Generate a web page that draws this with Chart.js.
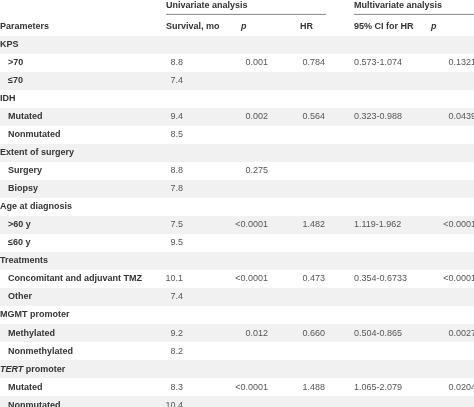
<!DOCTYPE html>
<html>
<head>
<meta charset="utf-8">
<script src="https://cdn.jsdelivr.net/npm/chart.js@4"></script>
<style>
  body { margin: 0; background: #fff; }
  #wrap { width: 474px; height: 407px; }
</style>
</head>
<body>
<div id="wrap"><canvas id="tbl"></canvas></div>
<script>
// Tabellendaten
const parameters = ['KPS', '>70', '≤70', 'IDH', 'Mutated', 'Nonmutated', 'Extent of surgery', 'Surgery', 'Biopsy',
    'Age at diagnosis', '>60 y', '≤60 y', 'Treatments', 'Concomitant and adjuvant TMZ', 'Other',
    'MGMT promoter', 'Methylated', 'Nonmethylated', 'TERT promoter', 'Mutated', 'Nonmutated'];
const isGroup = [1, 0, 0, 1, 0, 0, 1, 0, 0, 1, 0, 0, 1, 0, 0, 1, 0, 0, 1, 0, 0];
const survival = ['', '8.8', '7.4', '', '9.4', '8.5', '', '8.8', '7.8', '', '7.5', '9.5', '', '10.1', '7.4', '', '9.2', '8.2', '', '8.3', '10.4'];
const pUni = ['', '0.001', '', '', '0.002', '', '', '0.275', '', '', '<0.0001', '', '', '<0.0001', '', '', '0.012', '', '', '<0.0001', ''];
const hr = ['', '0.784', '', '', '0.564', '', '', '', '', '', '1.482', '', '', '0.473', '', '', '0.660', '', '', '1.488', ''];
const ci = ['', '0.573-1.074', '', '', '0.323-0.988', '', '', '', '', '', '1.119-1.962', '', '', '0.354-0.6733', '', '', '0.504-0.865', '', '', '1.065-2.079', ''];
const pMulti = ['', '0.1321', '', '', '0.0439', '', '', '', '', '', '<0.0001', '', '', '<0.0001', '', '', '0.0027', '', '', '0.0204', ''];
const headers = ['Parameters', 'Survival, mo', 'p', 'HR', '95% CI for HR', 'p'];

// Spalten: Anker (x-Wert), Ausrichtung
const columns = [
    { x: 0, align: 'left', data: null },
    { x: 183, align: 'right', hx: 166, data: survival },
    { x: 268, align: 'right', hx: 241, data: pUni },
    { x: 325, align: 'right', hx: 300, data: hr },
    { x: 354, align: 'left', hx: 354, data: ci },
    { x: 476, align: 'right', hx: 431, data: pMulti }
];

const FAM = '"Liberation Sans", Arial, sans-serif';

const tablePlugin = {
    id: 'tablePlugin',
    beforeDatasetsDraw(chart) {
        const { ctx, scales: { x, y } } = chart;
        const rowH = Math.abs(y.getPixelForValue(1) - y.getPixelForValue(0));
        ctx.save();
        // Zeilenstreifen
        parameters.forEach((p, i) => {
            if (i % 2 === 0) {
                const yc = y.getPixelForValue(i + 1);
                ctx.fillStyle = '#f1f1f1';
                ctx.fillRect(0, yc - rowH / 2, chart.width, rowH);
            }
        });
        const fontR = '9px ' + FAM;
        const fontB = 'bold 9px ' + FAM;
        const fontBI = 'bold italic 9px ' + FAM;
        ctx.textBaseline = 'middle';
        // Obere Kopfzeile
        const yTop = y.getPixelForValue(-1.2);
        ctx.fillStyle = '#333';
        ctx.font = fontB;
        ctx.textAlign = 'left';
        ctx.fillText('Univariate analysis', x.getPixelForValue(166), yTop);
        ctx.fillText('Multivariate analysis', x.getPixelForValue(354), yTop);
        ctx.strokeStyle = '#666';
        ctx.lineWidth = 0.8;
        const yLine = y.getPixelForValue(-0.7);
        ctx.beginPath();
        ctx.moveTo(x.getPixelForValue(166), yLine);
        ctx.lineTo(x.getPixelForValue(326), yLine);
        ctx.moveTo(x.getPixelForValue(354), yLine);
        ctx.lineTo(x.getPixelForValue(474), yLine);
        ctx.stroke();
        // Spaltenköpfe
        const yH = y.getPixelForValue(0);
        headers.forEach((h, c) => {
            const col = columns[c];
            ctx.font = (h === 'p') ? fontBI : fontB;
            ctx.textAlign = 'left';
            ctx.fillText(h, x.getPixelForValue(c === 0 ? col.x : col.hx), yH);
        });
        // Datenzeilen
        parameters.forEach((p, i) => {
            const yc = y.getPixelForValue(i + 1);
            ctx.fillStyle = '#333';
            ctx.font = fontB;
            ctx.textAlign = 'left';
            if (p.startsWith('TERT')) {
                ctx.font = fontBI;
                ctx.fillText('TERT', x.getPixelForValue(0), yc);
                const w = ctx.measureText('TERT ').width;
                ctx.font = fontB;
                ctx.fillText('promoter', x.getPixelForValue(0) + w, yc);
            } else {
                ctx.fillText(p, x.getPixelForValue(isGroup[i] ? 0 : 8), yc);
            }
            ctx.font = fontR;
            ctx.fillStyle = '#555';
            for (let c = 1; c < columns.length; c++) {
                const col = columns[c];
                ctx.textAlign = col.align;
                ctx.fillText(col.data[i], x.getPixelForValue(col.x), yc);
            }
        });
        ctx.restore();
    }
};

new Chart(document.getElementById('tbl'), {
    type: 'scatter',
    data: { datasets: [{ data: [], pointRadius: 0 }] },
    options: {
        responsive: true,
        maintainAspectRatio: false,
        animation: false,
        layout: { padding: 0 },
        plugins: { legend: { display: false }, tooltip: { enabled: false } },
        scales: {
            x: { type: 'linear', min: 0, max: 474, display: false },
            y: { type: 'linear', reverse: true, min: -1.5, max: 21.11, display: false }
        }
    },
    plugins: [tablePlugin]
});
</script>
</body>
</html>
